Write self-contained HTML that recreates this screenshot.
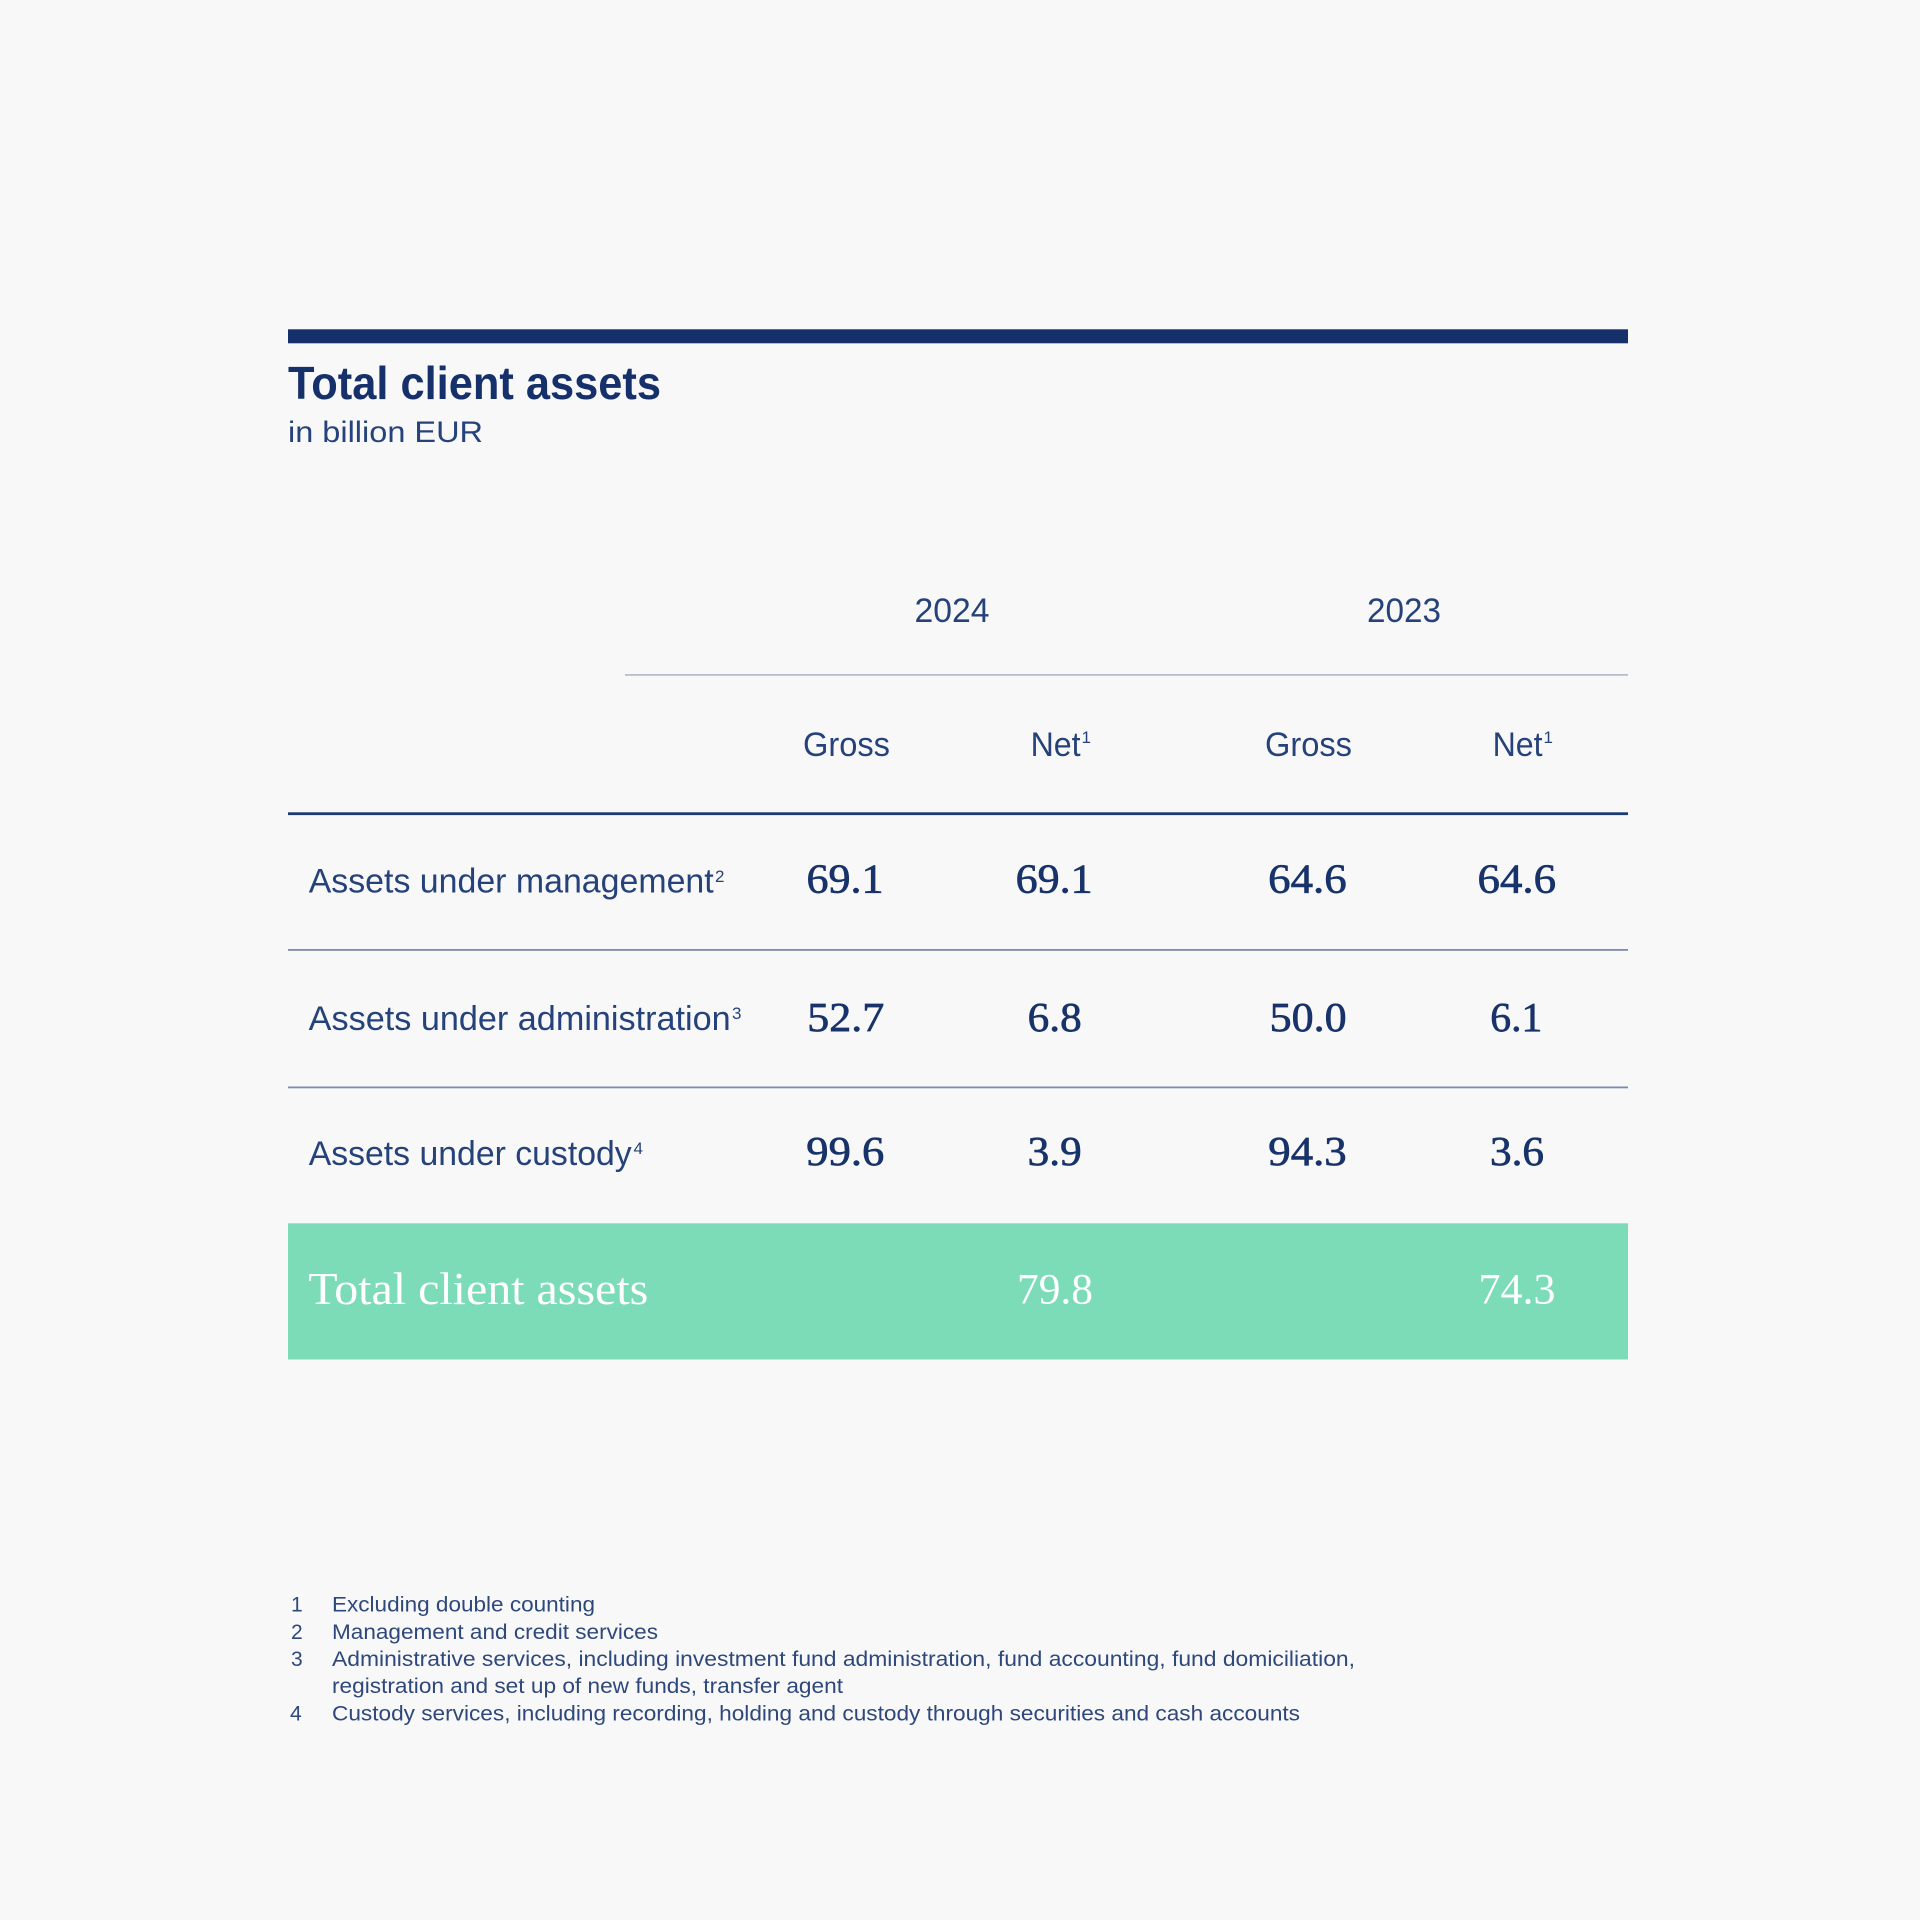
<!DOCTYPE html>
<html>
<head>
<meta charset="utf-8">
<style>
html,body{margin:0;padding:0;background:#f8f8f8;}
svg{display:block;}
.sans{font-family:"Liberation Sans",sans-serif;}
.serif{font-family:"Liberation Serif",serif;}
</style>
</head>
<body>
<svg width="1920" height="1920" viewBox="0 0 1920 1920" xmlns="http://www.w3.org/2000/svg">
<rect x="0" y="0" width="1920" height="1920" fill="#f8f8f8"/>
<!-- top bar -->
<rect x="288" y="329.3" width="1340" height="14" fill="#15306a"/>
<!-- title -->
<text class="sans" x="288" y="399" font-size="46" font-weight="bold" fill="#15306a" textLength="373" lengthAdjust="spacingAndGlyphs">Total client assets</text>
<text class="sans" x="288" y="442" font-size="30" fill="#26427a" textLength="195" lengthAdjust="spacingAndGlyphs">in billion EUR</text>

<!-- years -->
<text class="sans" x="952" y="622" font-size="34" fill="#26427a" text-anchor="middle" textLength="75" lengthAdjust="spacingAndGlyphs">2024</text>
<text class="sans" x="1404" y="622" font-size="34" fill="#26427a" text-anchor="middle" textLength="74" lengthAdjust="spacingAndGlyphs">2023</text>
<rect x="625" y="674" width="1003" height="1.8" fill="#b5bfcf"/>

<!-- sub headers -->
<text class="sans" x="846.5" y="756" font-size="34" fill="#26427a" text-anchor="middle" textLength="87" lengthAdjust="spacingAndGlyphs">Gross</text>
<text class="sans" x="1030.6" y="756" font-size="34" fill="#26427a" textLength="50" lengthAdjust="spacingAndGlyphs">Net</text>
<text class="sans" x="1081.5" y="743" font-size="17" fill="#26427a">1</text>
<text class="sans" x="1308.5" y="756" font-size="34" fill="#26427a" text-anchor="middle" textLength="87" lengthAdjust="spacingAndGlyphs">Gross</text>
<text class="sans" x="1492.6" y="756" font-size="34" fill="#26427a" textLength="50" lengthAdjust="spacingAndGlyphs">Net</text>
<text class="sans" x="1543.5" y="743" font-size="17" fill="#26427a">1</text>

<rect x="288" y="812.3" width="1340" height="2.8" fill="#1d3a72"/>

<!-- row labels -->
<text class="sans" x="308.7" y="892.7" font-size="34" fill="#26427a" textLength="405" lengthAdjust="spacingAndGlyphs">Assets under management</text>
<text class="sans" x="715" y="882" font-size="17" fill="#26427a">2</text>
<text class="sans" x="308.7" y="1030" font-size="34" fill="#26427a" textLength="422" lengthAdjust="spacingAndGlyphs">Assets under administration</text>
<text class="sans" x="732" y="1019" font-size="17" fill="#26427a">3</text>
<text class="sans" x="308.7" y="1165" font-size="34" fill="#26427a" textLength="323" lengthAdjust="spacingAndGlyphs">Assets under custody</text>
<text class="sans" x="633.5" y="1154" font-size="17" fill="#26427a">4</text>

<rect x="288" y="949" width="1340" height="1.8" fill="#7a8db0"/>
<rect x="288" y="1086.5" width="1340" height="1.8" fill="#7a8db0"/>

<!-- numbers -->
<g class="serif" font-size="41" fill="#18336a" stroke="#18336a" stroke-width="0.7" text-anchor="middle">
<text x="845" y="892.7" textLength="77" lengthAdjust="spacingAndGlyphs">69.1</text>
<text x="1054.2" y="892.7" textLength="77" lengthAdjust="spacingAndGlyphs">69.1</text>
<text x="1307.4" y="892.7" textLength="78.5" lengthAdjust="spacingAndGlyphs">64.6</text>
<text x="1516.8" y="892.7" textLength="78.5" lengthAdjust="spacingAndGlyphs">64.6</text>

<text x="845.8" y="1031" textLength="77" lengthAdjust="spacingAndGlyphs">52.7</text>
<text x="1054.7" y="1031" textLength="54" lengthAdjust="spacingAndGlyphs">6.8</text>
<text x="1308.2" y="1031" textLength="77" lengthAdjust="spacingAndGlyphs">50.0</text>
<text x="1516.3" y="1031" textLength="52" lengthAdjust="spacingAndGlyphs">6.1</text>

<text x="845.3" y="1165" textLength="78" lengthAdjust="spacingAndGlyphs">99.6</text>
<text x="1054.7" y="1165" textLength="54" lengthAdjust="spacingAndGlyphs">3.9</text>
<text x="1307.5" y="1165" textLength="78.4" lengthAdjust="spacingAndGlyphs">94.3</text>
<text x="1517" y="1165" textLength="54" lengthAdjust="spacingAndGlyphs">3.6</text>
</g>

<!-- total row -->
<rect x="288" y="1223.3" width="1340" height="136.2" fill="#7cdcb7"/>
<text class="serif" x="308.3" y="1304" font-size="46" fill="#ffffff" textLength="340" lengthAdjust="spacingAndGlyphs">Total client assets</text>
<text class="serif" x="1055" y="1303.5" font-size="43" fill="#ffffff" text-anchor="middle" textLength="76" lengthAdjust="spacingAndGlyphs">79.8</text>
<text class="serif" x="1517" y="1303.5" font-size="43" fill="#ffffff" text-anchor="middle" textLength="77" lengthAdjust="spacingAndGlyphs">74.3</text>

<!-- footnotes -->
<g class="sans" font-size="21" fill="#2e487b">
<text x="291" y="1611.5">1</text>
<text x="332" y="1611.5" textLength="263" lengthAdjust="spacingAndGlyphs">Excluding double counting</text>
<text x="291" y="1639">2</text>
<text x="332" y="1639" textLength="326" lengthAdjust="spacingAndGlyphs">Management and credit services</text>
<text x="291" y="1666">3</text>
<text x="332" y="1666" textLength="1023" lengthAdjust="spacingAndGlyphs">Administrative services, including investment fund administration, fund accounting, fund domiciliation,</text>
<text x="332" y="1693" textLength="511" lengthAdjust="spacingAndGlyphs">registration and set up of new funds, transfer agent</text>
<text x="290" y="1720.5">4</text>
<text x="332" y="1720.5" textLength="968" lengthAdjust="spacingAndGlyphs">Custody services, including recording, holding and custody through securities and cash accounts</text>
</g>
</svg>
</body>
</html>
